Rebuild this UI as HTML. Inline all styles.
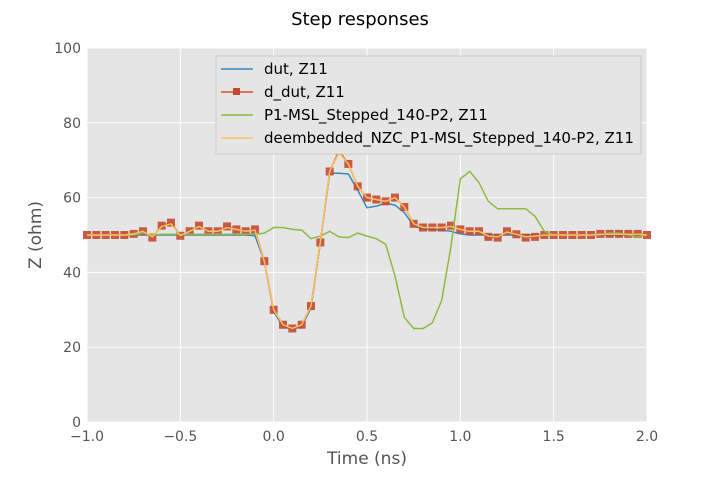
<!DOCTYPE html>
<html><head><meta charset="utf-8"><style>
body{margin:0;background:#fff;}
svg{display:block;font-family:"DejaVu Sans","Liberation Sans",sans-serif;}
</style></head><body>
<svg id="chart" width="720" height="480">
<text x="360" y="25" text-anchor="middle" font-size="18" fill="#000">Step responses</text>
<rect x="87" y="48" width="560" height="374" fill="#E5E5E5"/>
<g id="grid"></g><g id="ticks"></g><g id="series"></g>
<text x="367" y="464" text-anchor="middle" font-size="17" fill="#555">Time (ns)</text>
<text transform="translate(41,235) rotate(-90)" text-anchor="middle" font-size="17" fill="#555">Z (ohm)</text>
<g>
<rect x="216" y="56" width="425" height="98" fill="#E5E5E5" stroke="#ccc" stroke-width="1"/>
<g><line x1="221" y1="69" x2="253" y2="69" stroke="#348ABD" stroke-width="1.5"/><text x="264" y="74" font-size="15">dut, Z11</text></g>
<g><line x1="221" y1="92" x2="253" y2="92" stroke="#E24A33" stroke-width="1.5"/><rect x="233" y="88" width="7" height="7" fill="#C24A33"/><text x="264" y="97" font-size="15">d_dut, Z11</text></g>
<g><line x1="221" y1="115" x2="253" y2="115" stroke="#8EBA42" stroke-width="1.5"/><text x="264" y="120" font-size="15">P1-MSL_Stepped_140-P2, Z11</text></g>
<g><line x1="221" y1="138" x2="253" y2="138" stroke="#FBC15E" stroke-width="1.5"/><text x="264" y="143" font-size="15">deembedded_NZC_P1-MSL_Stepped_140-P2, Z11</text></g>
</g>
</svg>
<script>
const xStart = -1.0, xStep = 0.05;
const dutValues = [50,50,50,50,50,50,50,50,50,50,50,50,50,50,50,50,50,50,49.8,43,29.5,25.5,24.8,25.5,30.5,48,66.5,66.5,66.3,62,57.3,57.7,58.5,58,56,52.5,51.5,51.5,51.3,51,50.3,50,50,50,50,50,50,50,50,50,50,50,50,50,50,50,50,50,50,50,50];
const dDutValues = [50,50,50,50,50,50.3,51,49.3,52.5,53.3,49.8,51,52.5,51,51,52.3,51.5,51,51.5,43,30,26,25,26,31,48,67,72.5,69,63,60,59.5,59,60,57.5,53,52,52,52,52.5,51.5,51,51,49.5,49.3,51,50.2,49.3,49.5,50,50,50,50,50,50,50.3,50.3,50.3,50.3,50.3,50];
const p1Values = [50,50,50,50,50,50,50.5,50,50.2,50.2,50.2,50.2,50.2,50.2,50.2,50.2,50.2,50.2,50.2,50.5,52,52,51.5,51.3,49,49.7,51,49.5,49.3,50.5,49.7,49,47.5,39,28,25,25,26.5,32.5,47,65,67,64,59,57,57,57,57,55,51,50,50,50,50,50,50,50.5,50.5,50,49.5,50];
const deembValues = [50,50,50,50,50,50.3,51,49.5,52.3,53,49.8,51,52.3,51,51,52,51.5,51,51.3,43,30,26,25,26,31,48,67,72,69,63,60,59.5,59,60,57.5,53,52,52,52,52.3,51.5,51,51,49.7,49.5,50.8,50.2,49.5,49.7,50,50,50,50,50,50,50.2,50.2,50.2,50.2,50.2,50];
const xTicks = [-1.0,-0.5,0.0,0.5,1.0,1.5,2.0];
const xTickLabels = ["\u22121.0","\u22120.5","0.0","0.5","1.0","1.5","2.0"];
const yTicks = [0,20,40,60,80,100];
const yTickLabels = ["0","20","40","60","80","100"];

const X0=87,X1=647,Y0=422,Y1=48;
function sx(v){return X0+(v-(-1))/3*(X1-X0);}
function sy(v){return Y0-(v/100)*(Y0-Y1);}
const NS="http://www.w3.org/2000/svg";
function mk(tag,attrs,parent){const e=document.createElementNS(NS,tag);for(const k in attrs)e.setAttribute(k,attrs[k]);parent.appendChild(e);return e;}
const grid=document.getElementById('grid'),ticks=document.getElementById('ticks'),ser=document.getElementById('series');
xTicks.forEach((t,i)=>{
  const l=mk('line',{x1:sx(t),x2:sx(t),y1:Y1,y2:Y0,stroke:'#fff','stroke-width':1},grid);
  
  
  const tx=mk('text',{x:sx(t),y:Y0+19,'text-anchor':'middle','font-size':14,fill:'#555'},ticks);
  tx.textContent=xTickLabels[i];
  
  
});
yTicks.forEach((t,i)=>{
  const l=mk('line',{x1:X0,x2:X1,y1:sy(t),y2:sy(t),stroke:'#fff','stroke-width':1},grid);
  
  
  const tx=mk('text',{x:X0-6,y:sy(t)+5,'text-anchor':'end','font-size':14,fill:'#555'},ticks);
  tx.textContent=yTickLabels[i];
  
  
});
function pts(vals){return vals.map((v,i)=>sx(xStart+i*xStep).toFixed(1)+','+sy(v).toFixed(1)).join(' ');}
const s1=mk('polyline',{points:pts(dutValues),fill:'none',stroke:'#348ABD','stroke-width':1.5},ser);


const s2=mk('polyline',{points:pts(dDutValues),fill:'none',stroke:'#E24A33','stroke-width':1.5},ser);


dDutValues.forEach((v,i)=>{
  const m=mk('rect',{x:sx(xStart+i*xStep)-4,y:sy(v)-4,width:8,height:8,fill:'#C24A33',opacity:0.9},ser);
  
  
});
const s3=mk('polyline',{points:pts(p1Values),fill:'none',stroke:'#8EBA42','stroke-width':1.5},ser);


const s4=mk('polyline',{points:pts(deembValues),fill:'none',stroke:'#FBC15E','stroke-width':1.5},ser);


</script>
</body></html>
